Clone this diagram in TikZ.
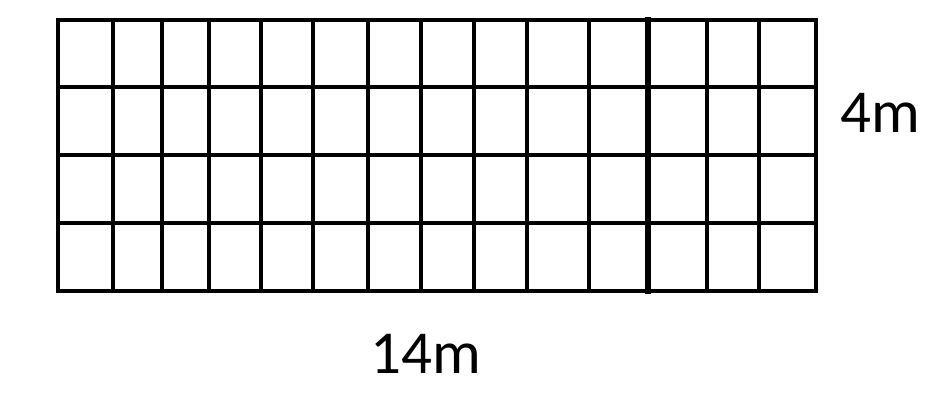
\documentclass[tikz,border=0pt]{standalone}
\usepackage{fontspec}
\setmainfont{Carlito}
\begin{document}
\begin{tikzpicture}[x=1pt,y=-1pt,
  gridline/.style={line width=4.6pt,line cap=rect},
  dimlabel/.style={anchor=base,inner sep=0pt,font=\fontsize{61}{70}\selectfont}]
\useasboundingbox[fill=white] (0,0) rectangle (941,407);
% horizontal lines
\foreach \y in {20,87,155,223,291}
  \draw[gridline] (58,\y) -- (816,\y);
% vertical lines
\foreach \x in {58,113,162,209,261,313,368,421,474,527,589,707,759,816}
  \draw[gridline] (\x,20) -- (\x,291);
\draw[line width=6pt,line cap=rect] (648,20) -- (648,291);
\node[dimlabel] (h) at (880,132) {4m};
\node[dimlabel] (w) at (426,373) {14m};
\end{tikzpicture}
\end{document}
